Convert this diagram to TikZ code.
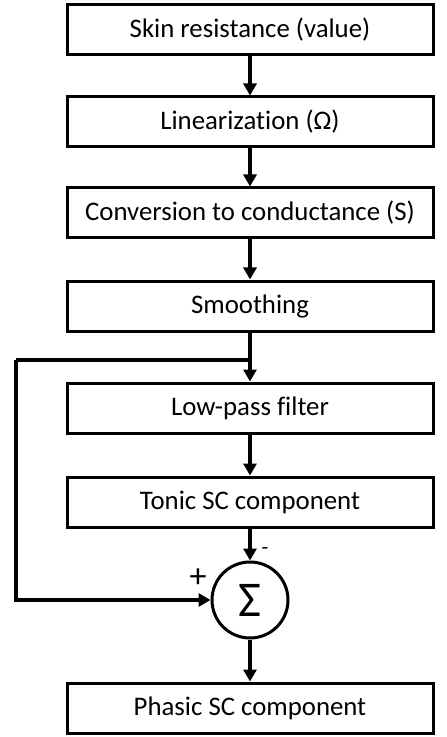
\documentclass[tikz,border=0pt]{standalone}
\usepackage{fontspec}
\setmainfont{Carlito}[Ligatures=NoCommon]
\usepackage{tikz}
\usetikzlibrary{positioning, arrows.meta}
\tikzset{
  stepbox/.style={draw, line width=1.5pt, minimum width=183pt, minimum height=25pt,
    inner sep=1pt, font=\fontsize{13.4pt}{15pt}\selectfont, align=center},
  sumnode/.style={draw, circle, line width=1.5pt, minimum size=38pt, inner sep=0pt,
    font=\fontsize{25pt}{27pt}\selectfont},
  flow/.style={line width=1.8pt, -{Triangle[width=6.5pt,length=6pt]}},
  wire/.style={line width=1.8pt},
  sign/.style={inner sep=0pt},
}

\begin{document}
\begin{tikzpicture}[x=0.5pt, y=-0.5pt]
        \useasboundingbox (0,0) rectangle (446,737);
        \node[stepbox] (s1) at (250,30) {Skin resistance (value)};
        \node[stepbox] (s2) at (250,122) {Linearization (Ω)};
        \node[stepbox] (s3) at (250,213) {Conversion to conductance (S)};
        \node[stepbox] (s4) at (250,306) {Smoothing};
        \node[stepbox] (s5) at (250,408) {Low-pass filter};
        \node[stepbox] (s6) at (250,502) {Tonic SC component};
        \node[sumnode] (sum) at (250,600) {Σ};
        \node[stepbox] (s7) at (250,708) {Phasic SC component};
        \draw[flow] (s1) -- (s2);
        \draw[flow] (s2) -- (s3);
        \draw[flow] (s3) -- (s4);
        \draw[flow] (s4) -- (s5);
        \draw[flow] (s5) -- (s6);
        \draw[flow] (s6) -- (sum);
        \draw[flow] (sum) -- (s7);
        % feedback of the smoothed signal
        \coordinate (br) at (250,360);
        \coordinate (lft) at (16,360);
        \draw[wire] (br) -- (lft);
        \draw[flow] (lft) -- (lft |- sum) -- (sum.west);
        \node[sign, font=\fontsize{17pt}{19pt}\selectfont] (plus) at (198,578) {+};
        \node[sign, font=\fontsize{11pt}{13pt}\selectfont] (minus) at (265,551) {-};
      \end{tikzpicture}
\end{document}
